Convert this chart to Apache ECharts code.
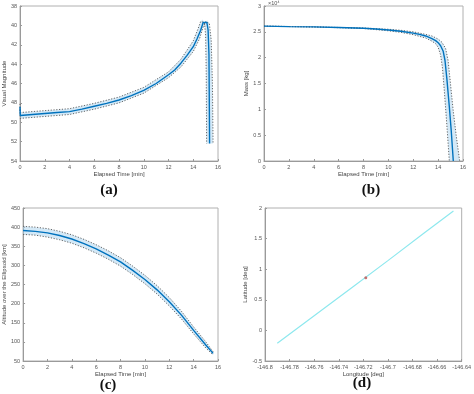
<!DOCTYPE html>
<html><head><meta charset="utf-8">
<script src="https://cdn.jsdelivr.net/npm/echarts@6/dist/echarts.min.js"></script>
<style>html,body{margin:0;padding:0;background:#fff}#c{width:474px;height:394px}</style>
</head><body><div id="c"></div>
<script>
// ---- Panel (a): visual magnitude vs elapsed time ----
const aT   = [0, 0.02, 1, 2, 3, 4, 5, 6, 7, 8, 9, 10, 11, 12, 12.5, 13, 13.5, 14, 14.3, 14.6, 14.8, 14.95, 15.1, 15.2, 15.27, 15.32];
const aMag = [48.4, 49.3, 49.2, 49.1, 49.0, 48.9, 48.65, 48.35, 48.05, 47.7, 47.25, 46.7, 46.0, 45.1, 44.6, 43.9, 43.1, 42.2, 41.4, 40.5, 39.7, 39.5, 39.7, 40.5, 43, 52.2];
const aUT  = [0, 0.02, 2, 4, 6, 8, 10, 12, 13, 14, 14.4, 14.6, 14.75, 14.9, 15.0, 15.05, 15.08];
const aUM  = [48.1, 49.0, 48.8, 48.6, 48.05, 47.4, 46.4, 44.8, 43.5, 41.6, 40.3, 39.6, 39.4, 39.7, 41, 45, 52.2];
const aLT  = [0, 0.02, 2, 4, 6, 8, 10, 12, 13, 14, 14.5, 14.8, 15.0, 15.15, 15.3, 15.45, 15.55, 15.6];
const aLM  = [48.7, 49.6, 49.4, 49.2, 48.65, 48.0, 47.0, 45.4, 44.3, 42.7, 41.4, 40.2, 39.6, 39.5, 39.8, 41.5, 46, 52.2];
// ---- Panel (b): mass (x10^4 kg) ----
const bT  = [0, 2, 4, 6, 8, 9, 10, 11, 12, 12.5, 13, 13.5, 13.8, 14.0, 14.2, 14.4, 14.55, 14.7, 14.9, 15.05, 15.22];
const bM  = [2.61, 2.60, 2.595, 2.585, 2.57, 2.555, 2.535, 2.51, 2.475, 2.45, 2.42, 2.37, 2.33, 2.29, 2.23, 2.13, 1.95, 1.6, 1.05, 0.6, 0];
const bUT = [0, 4, 8, 10, 11, 12, 13, 13.5, 14.0, 14.3, 14.6, 14.8, 14.95, 15.2, 15.45, 15.73];
const bUM = [2.61, 2.595, 2.575, 2.55, 2.53, 2.5, 2.45, 2.42, 2.36, 2.3, 2.18, 1.95, 1.6, 1.0, 0.5, 0];
const bLT = [0, 4, 8, 10, 11, 12, 13, 13.5, 13.8, 14.0, 14.2, 14.35, 14.5, 14.7, 14.9];
const bLM = [2.61, 2.595, 2.565, 2.52, 2.49, 2.445, 2.38, 2.32, 2.27, 2.2, 2.05, 1.8, 1.35, 0.7, 0];
// ---- Panel (c): altitude over the ellipsoid ----
const cT = [0, 1, 2, 3, 4, 5, 6, 7, 8, 9, 10, 11, 12, 13, 14, 15, 15.6];
const cA = [391, 389, 385, 378, 369, 357, 343, 327, 309, 287, 263, 236, 205, 170, 130, 92, 70];
const cU = [402, 400, 396, 389, 380, 368, 354, 338, 320, 298, 274, 247, 216, 180, 139, 100, 74];
const cL = [381, 379, 374, 367, 358, 346, 332, 316, 298, 276, 252, 225, 194, 160, 121, 84, 66];
// ---- Panel (d): ground track ----
const dLon = [-146.790, -146.76, -146.73, -146.70, -146.67, -146.6467];
const dLat = [-0.21, 0.24, 0.69, 1.14, 1.60, 1.95];
const dPtLon = [-146.718];
const dPtLat = [0.86];

const zip = (x, y) => x.map((v, i) => [v, y[i]]);
const BLUE = '#0072BD';
const axisCol = '#9a9a9a';
const labStyle = {color: '#555', fontSize: 5.5, fontFamily: 'Liberation Sans'};

function xAx(gi, min, max, interval, name, fmt) {
  return {type: 'value', gridIndex: gi, min, max, interval,
    name, nameLocation: 'middle', nameGap: 10,
    nameTextStyle: {color: '#444', fontSize: 6, fontFamily: 'Liberation Sans'},
    axisLine: {show: true, onZero: false, lineStyle: {color: axisCol, width: 1}},
    axisTick: {show: true, inside: true, length: 2, lineStyle: {color: axisCol}},
    axisLabel: Object.assign({margin: 3, formatter: fmt}, labStyle),
    splitLine: {show: false}};
}
function yAx(gi, min, max, interval, name, inverse, gap, fmt) {
  return {type: 'value', gridIndex: gi, min, max, interval, inverse: !!inverse,
    name, nameLocation: 'middle', nameGap: gap, nameRotate: 90,
    nameTextStyle: {color: '#444', fontSize: 6, fontFamily: 'Liberation Sans'},
    axisLine: {show: true, onZero: false, lineStyle: {color: axisCol, width: 1}},
    axisTick: {show: true, inside: true, length: 2, lineStyle: {color: axisCol}},
    axisLabel: Object.assign({margin: 3, formatter: fmt}, labStyle),
    splitLine: {show: false}};
}
function band(i, up, lo) {
  return {type: 'custom', xAxisIndex: i, yAxisIndex: i, data: [[0, 0]], silent: true, z: 1,
    renderItem: (p, api) => {
      const pts = up.map(q => api.coord(q)).concat(lo.slice().reverse().map(q => api.coord(q)));
      return {type: 'polygon', shape: {points: pts}, style: {fill: 'rgba(170,212,240,0.5)'}};
    }};
}
function dashed(i, d) {
  return {type: 'line', xAxisIndex: i, yAxisIndex: i, data: d, symbol: 'none', z: 3,
    lineStyle: {color: '#555', width: 0.9, type: [1.2, 1.6]}};
}
function center(i, d) {
  return {type: 'line', xAxisIndex: i, yAxisIndex: i, data: d, symbol: 'none', z: 4,
    lineStyle: {color: BLUE, width: 1.4}};
}
const gridBase = {show: true, borderColor: '#b0b0b0', borderWidth: 1, backgroundColor: '#fff', containLabel: false};
const cap = (t, x, y) => ({type: 'text', x, y, style: {text: t, fontSize: 15, fontWeight: 'bold', fill: '#111',
  fontFamily: 'Liberation Serif', align: 'center', verticalAlign: 'middle'}});

const option = {
  animation: false,
  backgroundColor: '#fff',
  grid: [
    Object.assign({left: 19, top: 6, width: 199, height: 155}, gridBase),
    Object.assign({left: 264, top: 6, width: 199, height: 155}, gridBase),
    Object.assign({left: 19, top: 208, width: 199, height: 153}, gridBase),
    Object.assign({left: 265, top: 208, width: 199, height: 153}, gridBase)
  ],
  xAxis: [
    xAx(0, 0, 16, 2, 'Elapsed Time [min]'),
    xAx(1, 0, 16, 2, 'Elapsed Time [min]'),
    xAx(2, 0, 16, 2, 'Elapsed Time [min]'),
    xAx(3, -146.8, -146.64, 0.02, 'Longitude [deg]', v => String(+v.toFixed(2)))
  ],
  yAxis: [
    yAx(0, 38, 54, 2, 'Visual Magnitude', true, 10),
    yAx(1, 0, 3, 0.5, 'Mass [kg]', false, 12),
    yAx(2, 50, 450, 50, 'Altitude over the Ellipsoid [km]', false, 12),
    yAx(3, -0.5, 2, 0.5, 'Latitude [deg]', false, 12)
  ],
  graphic: [
    {type: 'text', left: 268, top: 0, style: {text: '×10⁴', fontSize: 5.5, fill: '#555', fontFamily: 'Liberation Sans'}},
    cap('(a)', 109, 190), cap('(b)', 371, 190), cap('(c)', 108, 385), cap('(d)', 362, 383)
  ],
  series: [
    band(0, zip(aUT, aUM), zip(aLT, aLM)),
    dashed(0, zip(aUT, aUM)), dashed(0, zip(aLT, aLM)),
    center(0, zip(aT, aMag)),
    band(1, zip(bUT, bUM), zip(bLT, bLM)),
    dashed(1, zip(bUT, bUM)), dashed(1, zip(bLT, bLM)),
    center(1, zip(bT, bM)),
    band(2, zip(cT, cU), zip(cT, cL)),
    dashed(2, zip(cT, cU)), dashed(2, zip(cT, cL)),
    center(2, zip(cT, cA)),
    {type: 'line', xAxisIndex: 3, yAxisIndex: 3, data: zip(dLon, dLat), symbol: 'none',
      lineStyle: {color: '#8ee8ee', width: 1.2}},
    {type: 'scatter', xAxisIndex: 3, yAxisIndex: 3, data: zip(dPtLon, dPtLat), symbolSize: 3,
      itemStyle: {color: '#c0504d'}, z: 5}
  ]
};
echarts.init(document.getElementById('c'), null, {renderer: 'canvas'}).setOption(option);
</script></body></html>
